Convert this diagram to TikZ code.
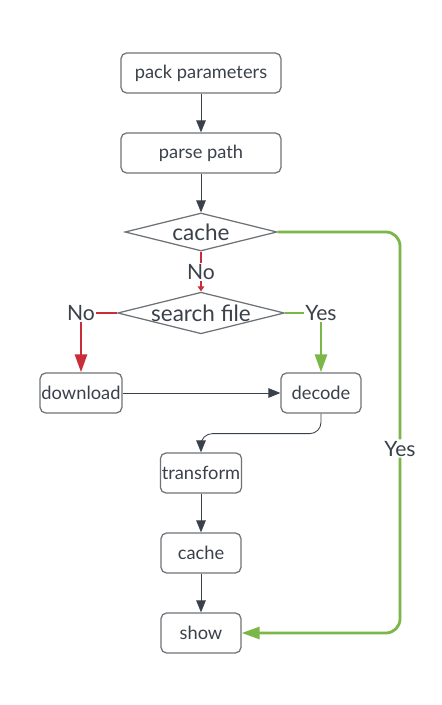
\documentclass[tikz,border=0pt]{standalone}
\usepackage{fontspec}
\setmainfont{Lato}
\definecolor{lcink}{HTML}{3A414A}
\definecolor{lcedge}{HTML}{6F7378}
\definecolor{lcred}{HTML}{C92D39}
\definecolor{lcgreen}{HTML}{7AB648}
\usetikzlibrary{arrows.meta,shapes.geometric}

\begin{document}
\begin{tikzpicture}[
  stepbox/.style={draw=lcedge,line width=0.9pt,rounded corners=4pt,align=center,
    inner sep=1pt,text=lcink,font=\fontsize{13}{15}\selectfont},
  wide/.style={stepbox,minimum width=4cm,minimum height=1cm},
  narrow/.style={stepbox,minimum width=2cm,minimum height=1cm},
  choice/.style={diamond,draw=lcedge,line width=0.9pt,inner sep=0pt,aspect=4,
    minimum width=3.8cm,minimum height=0.95cm,text=lcink,
    font=\fontsize{16}{18}\selectfont},
  lbl/.style={fill=white,text=lcink,inner sep=1pt,font=\fontsize{15}{17}\selectfont},
  arr/.style={-{Triangle[length=3mm,width=2.4mm]},line width=0.6pt,lcink},
  noarr/.style={-{Triangle[length=4.5mm,width=3mm]},line width=2pt,lcred},
  yesarr/.style={-{Triangle[length=4.5mm,width=3mm]},line width=2pt,lcgreen}]
  \useasboundingbox (0,0) rectangle (11.05,17.625);
  \node[wide] (pack) at (5.025,15.8) {pack parameters};
  \node[wide] (parse) at (5.025,13.8) {parse path};
  \node[choice] (incache) at (5.025,11.825) {cache};
  \node[choice] (search) at (5.025,9.8) {search file};
  \node[narrow] (down) at (2.025,7.8) {download};
  \node[narrow] (dec) at (8.025,7.8) {decode};
  \node[narrow] (trans) at (5.025,5.8) {transform};
  \node[narrow] (store) at (5.025,3.8) {cache};
  \node[narrow] (show) at (5.025,1.8) {show};
  \coordinate (bend) at (10,11.825);
  \draw[arr] (pack) -- (parse);
  \draw[arr] (parse) -- (incache);
  \draw[lcred,line width=2pt,-{Triangle[length=1.3mm,width=1.6mm]}]
    (incache.south) -- node[lbl] {No} (search.north);
  \draw[noarr] (search.west) -| node[lbl] {No} (down.north);
  \draw[yesarr] (search.east) -| node[lbl] {Yes} (dec.north);
  \draw[arr] (down) -- (dec);
  \draw[arr,rounded corners=8pt] (dec.south) -- ++(0,-0.5) -| (trans.north);
  \draw[arr] (trans) -- (store);
  \draw[arr] (store) -- (show);
  \draw[yesarr,rounded corners=10pt] (incache.east) -- (bend)
    |- node[lbl,pos=0.27] {Yes} (show.east);
\end{tikzpicture}
\end{document}
